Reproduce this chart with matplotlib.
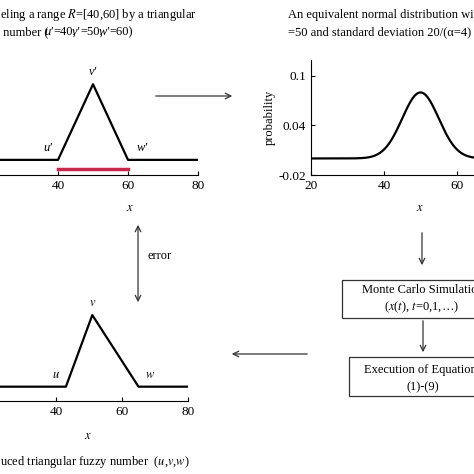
import numpy as np
import matplotlib.pyplot as plt

plt.rcParams['font.family'] = ['Liberation Serif', 'DejaVu Serif']
plt.rcParams['mathtext.fontset'] = 'stix'

W = 474
# fuzzy number from the range R=[40,60]
tri_x = [20, 40, 50, 60, 80]
tri_y = [0, 0, 1, 0, 0]
# reproduced fuzzy number (u, v, w)
rep_x = [20, 43, 51, 65, 80]
rep_y = [0, 0, 1, 0, 0]
mean, sd = 50, 5
x_ticks = [20, 40, 60, 80]
p_ticks = [-0.02, 0.04, 0.1]

fig = plt.figure(figsize=(4.74, 4.74), dpi=100)


def px_axes(x0, y0, x1, y1):
    # pixel box (top-left origin) -> figure fraction
    return fig.add_axes([x0 / W, 1 - y1 / W, (x1 - x0) / W, (y1 - y0) / W])


def style(ax, left=False):
    for s in ['top', 'right']:
        ax.spines[s].set_visible(False)
    ax.spines['left'].set_visible(left)
    ax.tick_params(direction='in', length=3, labelsize=9.5)
    if not left:
        ax.set_yticks([])


# top-left
ax1 = px_axes(-12, 60, 198, 175)
ax1.plot(tri_x, tri_y, color='black', lw=1.6)
ax1.plot([40, 60], [-0.12, -0.12], color='#c8264a', lw=2.5)
ax1.set_xlim(20, 80)
ax1.set_ylim(-0.2, 1.32)
ax1.set_xticks(x_ticks)
style(ax1)
ax1.text(50, 1.12, "v\u2032", ha='center', fontsize=9, style='italic')
ax1.text(37, 0.12, "u\u2032", ha='center', fontsize=9, style='italic')
ax1.text(64, 0.12, "w\u2032", ha='center', fontsize=9, style='italic')

# top-right
ax2 = px_axes(311, 60, 530, 175)
xs = np.linspace(20, 80, 300)
ax2.plot(xs, np.exp(-0.5 * ((xs - mean) / sd) ** 2) / (sd * np.sqrt(2 * np.pi)),
         color='black', lw=1.6)
ax2.set_xlim(20, 80)
ax2.set_ylim(-0.02, 0.119)
ax2.set_xticks(x_ticks)
ax2.set_yticks(p_ticks)
ax2.set_yticklabels(['-0.02', '0.04', '0.1'])
style(ax2, left=True)
ax2.set_ylabel('probability', fontsize=9, labelpad=2)

# bottom-left
ax3 = px_axes(-10, 290, 188, 401)
ax3.plot(rep_x, rep_y, color='black', lw=1.6)
ax3.set_xlim(20, 80)
ax3.set_ylim(-0.2, 1.35)
ax3.set_xticks(x_ticks)
style(ax3)
ax3.text(51, 1.12, '$v$', ha='center', fontsize=9)
ax3.text(40, 0.12, '$u$', ha='center', fontsize=9)
ax3.text(68.5, 0.12, '$w$', ha='center', fontsize=9)

# overlay for text, arrows and boxes
ov = fig.add_axes([0, 0, 1, 1])
ov.set_xlim(0, W)
ov.set_ylim(W, 0)
ov.axis('off')
fs = 9
ov.text(0, 15, 'eling a range $R$=[40,60] by a triangular', fontsize=fs, va='center')
ov.text(0, 32, " number (", fontsize=fs, va='center')
ov.text(0, 32, " number (u\u2032=40,v\u2032=50,w\u2032=60)", fontsize=fs, va='center', alpha=0)
ov.text(44, 32, "u\u2032", fontsize=fs, va='center', style='italic')
ov.text(53, 32, "=40,", fontsize=fs, va='center')
ov.text(72, 32, "v\u2032", fontsize=fs, va='center', style='italic')
ov.text(80, 32, "=50,", fontsize=fs, va='center')
ov.text(99, 32, "w\u2032", fontsize=fs, va='center', style='italic')
ov.text(109, 32, "=60)", fontsize=fs, va='center')
ov.text(288, 15, 'An equivalent normal distribution with mean', fontsize=fs, va='center')
ov.text(288, 32, '=50 and standard deviation 20/(\u03b1=4)', fontsize=fs, va='center')
ov.text(130, 208, '$x$', fontsize=fs, ha='center', va='center')
ov.text(420, 208, '$x$', fontsize=fs, ha='center', va='center')
ov.text(88, 436, '$x$', fontsize=fs, ha='center', va='center')
ov.text(0, 462, 'uced triangular fuzzy number  ($u$,$v$,$w$)', fontsize=fs, va='center')
ov.text(148, 256, 'error', fontsize=fs, va='center')

arr = dict(arrowstyle='->', color='#333333', lw=0.9, mutation_scale=10)
ov.annotate('', xy=(235, 96), xytext=(153, 96), arrowprops=arr)
ov.annotate('', xy=(138, 305), xytext=(138, 222), arrowprops=dict(arr, arrowstyle='<->'))
ov.annotate('', xy=(422, 268), xytext=(422, 230), arrowprops=arr)
ov.annotate('', xy=(423, 355), xytext=(423, 318), arrowprops=arr)
ov.annotate('', xy=(229, 354), xytext=(310, 354), arrowprops=arr)

ov.add_patch(plt.Rectangle((342, 280), 160, 38, fill=False, lw=0.9, ec='#333333'))
ov.add_patch(plt.Rectangle((349, 357), 160, 39, fill=False, lw=0.9, ec='#333333'))
ov.text(362, 290, 'Monte Carlo Simulation', fontsize=fs, va='center')
ov.text(422, 307, '($x$($t$), $t$=0,1,\u2026)', fontsize=fs, ha='center', va='center')
ov.text(364, 370, 'Execution of Equations', fontsize=fs, va='center')
ov.text(423, 387, '(1)-(9)', fontsize=fs, ha='center', va='center')

fig.savefig('out.png', dpi=100)
